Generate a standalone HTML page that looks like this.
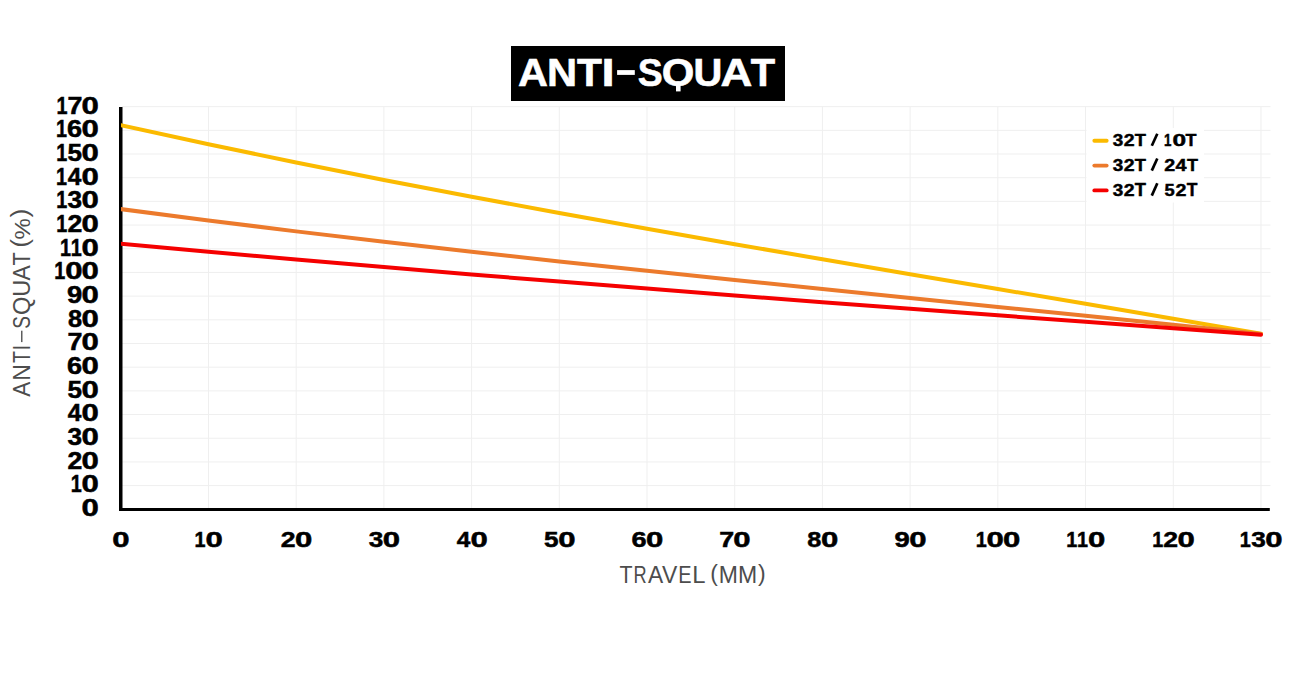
<!DOCTYPE html>
<html><head><meta charset="utf-8"><title>Anti-Squat</title>
<style>html,body{margin:0;padding:0;background:#fff;width:1296px;height:679px;overflow:hidden}
text{font-family:"Liberation Sans",sans-serif}</style></head>
<body>
<svg width="1296" height="679" viewBox="0 0 1296 679" style="display:block">
<rect width="1296" height="679" fill="#fff"/>
<g stroke="#efefef" stroke-width="1"><line x1="208.46" y1="106.5" x2="208.46" y2="508"/><line x1="296.17" y1="106.5" x2="296.17" y2="508"/><line x1="383.88" y1="106.5" x2="383.88" y2="508"/><line x1="471.59" y1="106.5" x2="471.59" y2="508"/><line x1="559.30" y1="106.5" x2="559.30" y2="508"/><line x1="647.01" y1="106.5" x2="647.01" y2="508"/><line x1="734.72" y1="106.5" x2="734.72" y2="508"/><line x1="822.43" y1="106.5" x2="822.43" y2="508"/><line x1="910.14" y1="106.5" x2="910.14" y2="508"/><line x1="997.85" y1="106.5" x2="997.85" y2="508"/><line x1="1085.56" y1="106.5" x2="1085.56" y2="508"/><line x1="1173.27" y1="106.5" x2="1173.27" y2="508"/><line x1="1260.98" y1="106.5" x2="1260.98" y2="508"/><line x1="122" y1="485.62" x2="1270.5" y2="485.62"/><line x1="122" y1="461.93" x2="1270.5" y2="461.93"/><line x1="122" y1="438.25" x2="1270.5" y2="438.25"/><line x1="122" y1="414.56" x2="1270.5" y2="414.56"/><line x1="122" y1="390.88" x2="1270.5" y2="390.88"/><line x1="122" y1="367.19" x2="1270.5" y2="367.19"/><line x1="122" y1="343.50" x2="1270.5" y2="343.50"/><line x1="122" y1="319.82" x2="1270.5" y2="319.82"/><line x1="122" y1="296.13" x2="1270.5" y2="296.13"/><line x1="122" y1="272.45" x2="1270.5" y2="272.45"/><line x1="122" y1="248.76" x2="1270.5" y2="248.76"/><line x1="122" y1="225.08" x2="1270.5" y2="225.08"/><line x1="122" y1="201.39" x2="1270.5" y2="201.39"/><line x1="122" y1="177.71" x2="1270.5" y2="177.71"/><line x1="122" y1="154.02" x2="1270.5" y2="154.02"/><line x1="122" y1="130.34" x2="1270.5" y2="130.34"/><line x1="122" y1="106.66" x2="1270.5" y2="106.66"/></g>
<rect x="1086.5" y="128" width="117.5" height="74.5" fill="#fff"/>
<line x1="120.75" y1="107" x2="120.75" y2="510.8" stroke="#000" stroke-width="3.5"/>
<line x1="119" y1="509.4" x2="1269.8" y2="509.4" stroke="#000" stroke-width="3"/>
<defs><clipPath id="ca"><rect x="120.9" y="0" width="1200" height="508"/></clipPath></defs>
<g clip-path="url(#ca)">
<path d="M120.75,125.21 L208.46,144.28 L296.17,162.50 L383.88,179.97 L471.59,196.78 L559.30,213.02 L647.01,228.80 L734.72,244.19 L822.43,259.29 L910.14,274.20 L997.85,289.01 L1085.56,303.81 L1173.27,318.69 L1260.98,333.75" fill="none" stroke="#fbba00" stroke-width="4" stroke-linecap="round" stroke-linejoin="round"/>
<path d="M120.75,209.10 L208.46,220.49 L296.17,231.36 L383.88,241.77 L471.59,251.78 L559.30,261.46 L647.01,270.85 L734.72,280.04 L822.43,289.06 L910.14,298.00 L997.85,306.89 L1085.56,315.81 L1173.27,324.82 L1260.98,333.98" fill="none" stroke="#ec7a2c" stroke-width="4" stroke-linecap="round" stroke-linejoin="round"/>
<path d="M120.75,243.68 L208.46,251.73 L296.17,259.53 L383.88,267.09 L471.59,274.44 L559.30,281.60 L647.01,288.59 L734.72,295.44 L822.43,302.16 L910.14,308.78 L997.85,315.32 L1085.56,321.80 L1173.27,328.25 L1260.98,334.69" fill="none" stroke="#f50000" stroke-width="4" stroke-linecap="round" stroke-linejoin="round"/>
</g>
<rect x="511" y="46" width="274" height="55" fill="#000"/>
<text x="517.97" y="86.20" font-size="39.54" font-family="Liberation Sans, sans-serif" font-weight="bold" fill="#fff" textLength="29.92" lengthAdjust="spacingAndGlyphs" stroke="#fff" stroke-width="0.6">A</text>
<text x="547.11" y="86.20" font-size="39.54" font-family="Liberation Sans, sans-serif" font-weight="bold" fill="#fff" textLength="30.10" lengthAdjust="spacingAndGlyphs" stroke="#fff" stroke-width="0.6">N</text>
<text x="577.04" y="86.20" font-size="39.54" font-family="Liberation Sans, sans-serif" font-weight="bold" fill="#fff" textLength="24.90" lengthAdjust="spacingAndGlyphs" stroke="#fff" stroke-width="0.6">T</text>
<text x="601.44" y="86.20" font-size="39.54" font-family="Liberation Sans, sans-serif" font-weight="bold" fill="#fff" textLength="13.12" lengthAdjust="spacingAndGlyphs" stroke="#fff" stroke-width="0.6">I</text>
<text x="637.82" y="86.20" font-size="39.54" font-family="Liberation Sans, sans-serif" font-weight="bold" fill="#fff" textLength="24.94" lengthAdjust="spacingAndGlyphs" stroke="#fff" stroke-width="0.6">S</text>
<text x="661.78" y="86.20" font-size="39.54" font-family="Liberation Sans, sans-serif" font-weight="bold" fill="#fff" textLength="32.58" lengthAdjust="spacingAndGlyphs" stroke="#fff" stroke-width="0.6">O</text>
<text x="693.60" y="86.20" font-size="39.54" font-family="Liberation Sans, sans-serif" font-weight="bold" fill="#fff" textLength="28.84" lengthAdjust="spacingAndGlyphs" stroke="#fff" stroke-width="0.6">U</text>
<text x="720.60" y="86.20" font-size="39.54" font-family="Liberation Sans, sans-serif" font-weight="bold" fill="#fff" textLength="31.86" lengthAdjust="spacingAndGlyphs" stroke="#fff" stroke-width="0.6">A</text>
<text x="750.85" y="86.20" font-size="39.54" font-family="Liberation Sans, sans-serif" font-weight="bold" fill="#fff" textLength="24.38" lengthAdjust="spacingAndGlyphs" stroke="#fff" stroke-width="0.6">T</text>
<rect x="617.1" y="70.1" width="17.7" height="4.8" fill="#fff"/>
<rect x="676.0" y="82" width="4.6" height="9.4" fill="#fff"/>
<text x="81.57" y="516.17" font-size="23.59" font-family="Liberation Sans, sans-serif" font-weight="bold" fill="#000" textLength="17.31" lengthAdjust="spacingAndGlyphs" stroke="#000" stroke-width="0.5">0</text>
<text x="70.75" y="492.48" font-size="23.59" font-family="Liberation Sans, sans-serif" font-weight="bold" fill="#000" textLength="11.00" lengthAdjust="spacingAndGlyphs" stroke="#000" stroke-width="0.5">1</text><text x="81.57" y="492.48" font-size="23.59" font-family="Liberation Sans, sans-serif" font-weight="bold" fill="#000" textLength="17.31" lengthAdjust="spacingAndGlyphs" stroke="#000" stroke-width="0.5">0</text>
<text x="67.48" y="468.80" font-size="23.59" font-family="Liberation Sans, sans-serif" font-weight="bold" fill="#000" textLength="14.79" lengthAdjust="spacingAndGlyphs" stroke="#000" stroke-width="0.5">2</text><text x="81.57" y="468.80" font-size="23.59" font-family="Liberation Sans, sans-serif" font-weight="bold" fill="#000" textLength="17.31" lengthAdjust="spacingAndGlyphs" stroke="#000" stroke-width="0.5">0</text>
<text x="67.60" y="445.11" font-size="23.59" font-family="Liberation Sans, sans-serif" font-weight="bold" fill="#000" textLength="14.55" lengthAdjust="spacingAndGlyphs" stroke="#000" stroke-width="0.5">3</text><text x="81.57" y="445.11" font-size="23.59" font-family="Liberation Sans, sans-serif" font-weight="bold" fill="#000" textLength="17.31" lengthAdjust="spacingAndGlyphs" stroke="#000" stroke-width="0.5">0</text>
<text x="67.73" y="421.43" font-size="23.59" font-family="Liberation Sans, sans-serif" font-weight="bold" fill="#000" textLength="13.60" lengthAdjust="spacingAndGlyphs" stroke="#000" stroke-width="0.5">4</text><text x="81.57" y="421.43" font-size="23.59" font-family="Liberation Sans, sans-serif" font-weight="bold" fill="#000" textLength="17.31" lengthAdjust="spacingAndGlyphs" stroke="#000" stroke-width="0.5">0</text>
<text x="67.40" y="397.74" font-size="23.59" font-family="Liberation Sans, sans-serif" font-weight="bold" fill="#000" textLength="14.53" lengthAdjust="spacingAndGlyphs" stroke="#000" stroke-width="0.5">5</text><text x="81.57" y="397.74" font-size="23.59" font-family="Liberation Sans, sans-serif" font-weight="bold" fill="#000" textLength="17.31" lengthAdjust="spacingAndGlyphs" stroke="#000" stroke-width="0.5">0</text>
<text x="67.11" y="374.06" font-size="23.59" font-family="Liberation Sans, sans-serif" font-weight="bold" fill="#000" textLength="15.07" lengthAdjust="spacingAndGlyphs" stroke="#000" stroke-width="0.5">6</text><text x="81.57" y="374.06" font-size="23.59" font-family="Liberation Sans, sans-serif" font-weight="bold" fill="#000" textLength="17.31" lengthAdjust="spacingAndGlyphs" stroke="#000" stroke-width="0.5">0</text>
<text x="67.45" y="350.37" font-size="23.59" font-family="Liberation Sans, sans-serif" font-weight="bold" fill="#000" textLength="14.93" lengthAdjust="spacingAndGlyphs" stroke="#000" stroke-width="0.5">7</text><text x="81.57" y="350.37" font-size="23.59" font-family="Liberation Sans, sans-serif" font-weight="bold" fill="#000" textLength="17.31" lengthAdjust="spacingAndGlyphs" stroke="#000" stroke-width="0.5">0</text>
<text x="67.90" y="326.69" font-size="23.59" font-family="Liberation Sans, sans-serif" font-weight="bold" fill="#000" textLength="14.08" lengthAdjust="spacingAndGlyphs" stroke="#000" stroke-width="0.5">8</text><text x="81.57" y="326.69" font-size="23.59" font-family="Liberation Sans, sans-serif" font-weight="bold" fill="#000" textLength="17.31" lengthAdjust="spacingAndGlyphs" stroke="#000" stroke-width="0.5">0</text>
<text x="66.95" y="303.00" font-size="23.59" font-family="Liberation Sans, sans-serif" font-weight="bold" fill="#000" textLength="15.27" lengthAdjust="spacingAndGlyphs" stroke="#000" stroke-width="0.5">9</text><text x="81.57" y="303.00" font-size="23.59" font-family="Liberation Sans, sans-serif" font-weight="bold" fill="#000" textLength="17.31" lengthAdjust="spacingAndGlyphs" stroke="#000" stroke-width="0.5">0</text>
<text x="54.35" y="279.32" font-size="23.59" font-family="Liberation Sans, sans-serif" font-weight="bold" fill="#000" textLength="11.00" lengthAdjust="spacingAndGlyphs" stroke="#000" stroke-width="0.5">1</text><text x="65.17" y="279.32" font-size="23.59" font-family="Liberation Sans, sans-serif" font-weight="bold" fill="#000" textLength="17.31" lengthAdjust="spacingAndGlyphs" stroke="#000" stroke-width="0.5">0</text><text x="81.57" y="279.32" font-size="23.59" font-family="Liberation Sans, sans-serif" font-weight="bold" fill="#000" textLength="17.31" lengthAdjust="spacingAndGlyphs" stroke="#000" stroke-width="0.5">0</text>
<text x="59.95" y="255.63" font-size="23.59" font-family="Liberation Sans, sans-serif" font-weight="bold" fill="#000" textLength="11.00" lengthAdjust="spacingAndGlyphs" stroke="#000" stroke-width="0.5">1</text><text x="70.75" y="255.63" font-size="23.59" font-family="Liberation Sans, sans-serif" font-weight="bold" fill="#000" textLength="11.00" lengthAdjust="spacingAndGlyphs" stroke="#000" stroke-width="0.5">1</text><text x="81.57" y="255.63" font-size="23.59" font-family="Liberation Sans, sans-serif" font-weight="bold" fill="#000" textLength="17.31" lengthAdjust="spacingAndGlyphs" stroke="#000" stroke-width="0.5">0</text>
<text x="56.35" y="231.95" font-size="23.59" font-family="Liberation Sans, sans-serif" font-weight="bold" fill="#000" textLength="11.00" lengthAdjust="spacingAndGlyphs" stroke="#000" stroke-width="0.5">1</text><text x="67.48" y="231.95" font-size="23.59" font-family="Liberation Sans, sans-serif" font-weight="bold" fill="#000" textLength="14.79" lengthAdjust="spacingAndGlyphs" stroke="#000" stroke-width="0.5">2</text><text x="81.57" y="231.95" font-size="23.59" font-family="Liberation Sans, sans-serif" font-weight="bold" fill="#000" textLength="17.31" lengthAdjust="spacingAndGlyphs" stroke="#000" stroke-width="0.5">0</text>
<text x="56.15" y="208.26" font-size="23.59" font-family="Liberation Sans, sans-serif" font-weight="bold" fill="#000" textLength="11.00" lengthAdjust="spacingAndGlyphs" stroke="#000" stroke-width="0.5">1</text><text x="67.60" y="208.26" font-size="23.59" font-family="Liberation Sans, sans-serif" font-weight="bold" fill="#000" textLength="14.55" lengthAdjust="spacingAndGlyphs" stroke="#000" stroke-width="0.5">3</text><text x="81.57" y="208.26" font-size="23.59" font-family="Liberation Sans, sans-serif" font-weight="bold" fill="#000" textLength="17.31" lengthAdjust="spacingAndGlyphs" stroke="#000" stroke-width="0.5">0</text>
<text x="56.05" y="184.58" font-size="23.59" font-family="Liberation Sans, sans-serif" font-weight="bold" fill="#000" textLength="11.00" lengthAdjust="spacingAndGlyphs" stroke="#000" stroke-width="0.5">1</text><text x="67.73" y="184.58" font-size="23.59" font-family="Liberation Sans, sans-serif" font-weight="bold" fill="#000" textLength="13.60" lengthAdjust="spacingAndGlyphs" stroke="#000" stroke-width="0.5">4</text><text x="81.57" y="184.58" font-size="23.59" font-family="Liberation Sans, sans-serif" font-weight="bold" fill="#000" textLength="17.31" lengthAdjust="spacingAndGlyphs" stroke="#000" stroke-width="0.5">0</text>
<text x="56.15" y="160.89" font-size="23.59" font-family="Liberation Sans, sans-serif" font-weight="bold" fill="#000" textLength="11.00" lengthAdjust="spacingAndGlyphs" stroke="#000" stroke-width="0.5">1</text><text x="67.40" y="160.89" font-size="23.59" font-family="Liberation Sans, sans-serif" font-weight="bold" fill="#000" textLength="14.53" lengthAdjust="spacingAndGlyphs" stroke="#000" stroke-width="0.5">5</text><text x="81.57" y="160.89" font-size="23.59" font-family="Liberation Sans, sans-serif" font-weight="bold" fill="#000" textLength="17.31" lengthAdjust="spacingAndGlyphs" stroke="#000" stroke-width="0.5">0</text>
<text x="56.05" y="137.21" font-size="23.59" font-family="Liberation Sans, sans-serif" font-weight="bold" fill="#000" textLength="11.00" lengthAdjust="spacingAndGlyphs" stroke="#000" stroke-width="0.5">1</text><text x="67.11" y="137.21" font-size="23.59" font-family="Liberation Sans, sans-serif" font-weight="bold" fill="#000" textLength="15.07" lengthAdjust="spacingAndGlyphs" stroke="#000" stroke-width="0.5">6</text><text x="81.57" y="137.21" font-size="23.59" font-family="Liberation Sans, sans-serif" font-weight="bold" fill="#000" textLength="17.31" lengthAdjust="spacingAndGlyphs" stroke="#000" stroke-width="0.5">0</text>
<text x="56.55" y="113.52" font-size="23.59" font-family="Liberation Sans, sans-serif" font-weight="bold" fill="#000" textLength="11.00" lengthAdjust="spacingAndGlyphs" stroke="#000" stroke-width="0.5">1</text><text x="67.45" y="113.52" font-size="23.59" font-family="Liberation Sans, sans-serif" font-weight="bold" fill="#000" textLength="14.93" lengthAdjust="spacingAndGlyphs" stroke="#000" stroke-width="0.5">7</text><text x="81.57" y="113.52" font-size="23.59" font-family="Liberation Sans, sans-serif" font-weight="bold" fill="#000" textLength="17.31" lengthAdjust="spacingAndGlyphs" stroke="#000" stroke-width="0.5">0</text>
<text x="112.32" y="547.18" font-size="22.17" font-family="Liberation Sans, sans-serif" font-weight="bold" fill="#000" textLength="17.31" lengthAdjust="spacingAndGlyphs" stroke="#000" stroke-width="0.5">0</text>
<text x="194.61" y="547.18" font-size="22.17" font-family="Liberation Sans, sans-serif" font-weight="bold" fill="#000" textLength="11.00" lengthAdjust="spacingAndGlyphs" stroke="#000" stroke-width="0.5">1</text><text x="205.43" y="547.18" font-size="22.17" font-family="Liberation Sans, sans-serif" font-weight="bold" fill="#000" textLength="17.31" lengthAdjust="spacingAndGlyphs" stroke="#000" stroke-width="0.5">0</text>
<text x="280.85" y="547.18" font-size="22.17" font-family="Liberation Sans, sans-serif" font-weight="bold" fill="#000" textLength="14.79" lengthAdjust="spacingAndGlyphs" stroke="#000" stroke-width="0.5">2</text><text x="294.94" y="547.18" font-size="22.17" font-family="Liberation Sans, sans-serif" font-weight="bold" fill="#000" textLength="17.31" lengthAdjust="spacingAndGlyphs" stroke="#000" stroke-width="0.5">0</text>
<text x="368.78" y="547.18" font-size="22.17" font-family="Liberation Sans, sans-serif" font-weight="bold" fill="#000" textLength="14.55" lengthAdjust="spacingAndGlyphs" stroke="#000" stroke-width="0.5">3</text><text x="382.75" y="547.18" font-size="22.17" font-family="Liberation Sans, sans-serif" font-weight="bold" fill="#000" textLength="17.31" lengthAdjust="spacingAndGlyphs" stroke="#000" stroke-width="0.5">0</text>
<text x="456.67" y="547.18" font-size="22.17" font-family="Liberation Sans, sans-serif" font-weight="bold" fill="#000" textLength="13.60" lengthAdjust="spacingAndGlyphs" stroke="#000" stroke-width="0.5">4</text><text x="470.51" y="547.18" font-size="22.17" font-family="Liberation Sans, sans-serif" font-weight="bold" fill="#000" textLength="17.31" lengthAdjust="spacingAndGlyphs" stroke="#000" stroke-width="0.5">0</text>
<text x="544.00" y="547.18" font-size="22.17" font-family="Liberation Sans, sans-serif" font-weight="bold" fill="#000" textLength="14.53" lengthAdjust="spacingAndGlyphs" stroke="#000" stroke-width="0.5">5</text><text x="558.17" y="547.18" font-size="22.17" font-family="Liberation Sans, sans-serif" font-weight="bold" fill="#000" textLength="17.31" lengthAdjust="spacingAndGlyphs" stroke="#000" stroke-width="0.5">0</text>
<text x="631.47" y="547.18" font-size="22.17" font-family="Liberation Sans, sans-serif" font-weight="bold" fill="#000" textLength="15.07" lengthAdjust="spacingAndGlyphs" stroke="#000" stroke-width="0.5">6</text><text x="645.93" y="547.18" font-size="22.17" font-family="Liberation Sans, sans-serif" font-weight="bold" fill="#000" textLength="17.31" lengthAdjust="spacingAndGlyphs" stroke="#000" stroke-width="0.5">0</text>
<text x="719.27" y="547.18" font-size="22.17" font-family="Liberation Sans, sans-serif" font-weight="bold" fill="#000" textLength="14.93" lengthAdjust="spacingAndGlyphs" stroke="#000" stroke-width="0.5">7</text><text x="733.39" y="547.18" font-size="22.17" font-family="Liberation Sans, sans-serif" font-weight="bold" fill="#000" textLength="17.31" lengthAdjust="spacingAndGlyphs" stroke="#000" stroke-width="0.5">0</text>
<text x="807.38" y="547.18" font-size="22.17" font-family="Liberation Sans, sans-serif" font-weight="bold" fill="#000" textLength="14.08" lengthAdjust="spacingAndGlyphs" stroke="#000" stroke-width="0.5">8</text><text x="821.05" y="547.18" font-size="22.17" font-family="Liberation Sans, sans-serif" font-weight="bold" fill="#000" textLength="17.31" lengthAdjust="spacingAndGlyphs" stroke="#000" stroke-width="0.5">0</text>
<text x="894.54" y="547.18" font-size="22.17" font-family="Liberation Sans, sans-serif" font-weight="bold" fill="#000" textLength="15.27" lengthAdjust="spacingAndGlyphs" stroke="#000" stroke-width="0.5">9</text><text x="909.16" y="547.18" font-size="22.17" font-family="Liberation Sans, sans-serif" font-weight="bold" fill="#000" textLength="17.31" lengthAdjust="spacingAndGlyphs" stroke="#000" stroke-width="0.5">0</text>
<text x="975.80" y="547.18" font-size="22.17" font-family="Liberation Sans, sans-serif" font-weight="bold" fill="#000" textLength="11.00" lengthAdjust="spacingAndGlyphs" stroke="#000" stroke-width="0.5">1</text><text x="986.62" y="547.18" font-size="22.17" font-family="Liberation Sans, sans-serif" font-weight="bold" fill="#000" textLength="17.31" lengthAdjust="spacingAndGlyphs" stroke="#000" stroke-width="0.5">0</text><text x="1003.02" y="547.18" font-size="22.17" font-family="Liberation Sans, sans-serif" font-weight="bold" fill="#000" textLength="17.31" lengthAdjust="spacingAndGlyphs" stroke="#000" stroke-width="0.5">0</text>
<text x="1066.31" y="547.18" font-size="22.17" font-family="Liberation Sans, sans-serif" font-weight="bold" fill="#000" textLength="11.00" lengthAdjust="spacingAndGlyphs" stroke="#000" stroke-width="0.5">1</text><text x="1077.11" y="547.18" font-size="22.17" font-family="Liberation Sans, sans-serif" font-weight="bold" fill="#000" textLength="11.00" lengthAdjust="spacingAndGlyphs" stroke="#000" stroke-width="0.5">1</text><text x="1087.93" y="547.18" font-size="22.17" font-family="Liberation Sans, sans-serif" font-weight="bold" fill="#000" textLength="17.31" lengthAdjust="spacingAndGlyphs" stroke="#000" stroke-width="0.5">0</text>
<text x="1152.22" y="547.18" font-size="22.17" font-family="Liberation Sans, sans-serif" font-weight="bold" fill="#000" textLength="11.00" lengthAdjust="spacingAndGlyphs" stroke="#000" stroke-width="0.5">1</text><text x="1163.35" y="547.18" font-size="22.17" font-family="Liberation Sans, sans-serif" font-weight="bold" fill="#000" textLength="14.79" lengthAdjust="spacingAndGlyphs" stroke="#000" stroke-width="0.5">2</text><text x="1177.44" y="547.18" font-size="22.17" font-family="Liberation Sans, sans-serif" font-weight="bold" fill="#000" textLength="17.31" lengthAdjust="spacingAndGlyphs" stroke="#000" stroke-width="0.5">0</text>
<text x="1239.83" y="547.18" font-size="22.17" font-family="Liberation Sans, sans-serif" font-weight="bold" fill="#000" textLength="11.00" lengthAdjust="spacingAndGlyphs" stroke="#000" stroke-width="0.5">1</text><text x="1251.28" y="547.18" font-size="22.17" font-family="Liberation Sans, sans-serif" font-weight="bold" fill="#000" textLength="14.55" lengthAdjust="spacingAndGlyphs" stroke="#000" stroke-width="0.5">3</text><text x="1265.25" y="547.18" font-size="22.17" font-family="Liberation Sans, sans-serif" font-weight="bold" fill="#000" textLength="17.31" lengthAdjust="spacingAndGlyphs" stroke="#000" stroke-width="0.5">0</text>
<text x="619.42" y="582.60" font-size="23.69" font-family="Liberation Sans, sans-serif" fill="#4d4d4d" textLength="13.07" lengthAdjust="spacingAndGlyphs" >T</text><text x="633.61" y="582.60" font-size="23.69" font-family="Liberation Sans, sans-serif" fill="#4d4d4d" textLength="13.14" lengthAdjust="spacingAndGlyphs" >R</text><text x="647.96" y="582.60" font-size="23.69" font-family="Liberation Sans, sans-serif" fill="#4d4d4d" textLength="15.19" lengthAdjust="spacingAndGlyphs" >A</text><text x="662.10" y="582.60" font-size="23.69" font-family="Liberation Sans, sans-serif" fill="#4d4d4d" textLength="15.30" lengthAdjust="spacingAndGlyphs" >V</text><text x="678.17" y="582.60" font-size="23.69" font-family="Liberation Sans, sans-serif" fill="#4d4d4d" textLength="13.29" lengthAdjust="spacingAndGlyphs" >E</text><text x="692.25" y="582.60" font-size="23.69" font-family="Liberation Sans, sans-serif" fill="#4d4d4d" textLength="13.24" lengthAdjust="spacingAndGlyphs" >L</text><text x="710.37" y="580.63" font-size="24.47" font-family="Liberation Sans, sans-serif" fill="#4d4d4d" textLength="7.66" lengthAdjust="spacingAndGlyphs" >(</text><text x="718.81" y="582.60" font-size="23.69" font-family="Liberation Sans, sans-serif" fill="#4d4d4d" textLength="19.18" lengthAdjust="spacingAndGlyphs" >M</text><text x="738.01" y="582.60" font-size="23.69" font-family="Liberation Sans, sans-serif" fill="#4d4d4d" textLength="19.18" lengthAdjust="spacingAndGlyphs" >M</text><text x="757.97" y="580.63" font-size="24.47" font-family="Liberation Sans, sans-serif" fill="#4d4d4d" textLength="7.66" lengthAdjust="spacingAndGlyphs" >)</text>
<g transform="translate(13.8,396.6) rotate(-90)"><text x="-0.04" y="16.00" font-size="23.26" font-family="Liberation Sans, sans-serif" fill="#4d4d4d" textLength="15.09" lengthAdjust="spacingAndGlyphs" >A</text><text x="15.82" y="16.00" font-size="23.26" font-family="Liberation Sans, sans-serif" fill="#4d4d4d" textLength="16.55" lengthAdjust="spacingAndGlyphs" >N</text><text x="33.66" y="16.00" font-size="23.26" font-family="Liberation Sans, sans-serif" fill="#4d4d4d" textLength="11.88" lengthAdjust="spacingAndGlyphs" >T</text><text x="46.42" y="16.00" font-size="23.26" font-family="Liberation Sans, sans-serif" fill="#4d4d4d" textLength="5.36" lengthAdjust="spacingAndGlyphs" >I</text><text x="67.93" y="16.00" font-size="23.26" font-family="Liberation Sans, sans-serif" fill="#4d4d4d" textLength="12.74" lengthAdjust="spacingAndGlyphs" >S</text><text x="81.58" y="16.00" font-size="23.26" font-family="Liberation Sans, sans-serif" fill="#4d4d4d" textLength="18.46" lengthAdjust="spacingAndGlyphs" >Q</text><text x="99.98" y="16.00" font-size="23.26" font-family="Liberation Sans, sans-serif" fill="#4d4d4d" textLength="17.04" lengthAdjust="spacingAndGlyphs" >U</text><text x="116.16" y="16.00" font-size="23.26" font-family="Liberation Sans, sans-serif" fill="#4d4d4d" textLength="15.19" lengthAdjust="spacingAndGlyphs" >A</text><text x="131.11" y="16.00" font-size="23.26" font-family="Liberation Sans, sans-serif" fill="#4d4d4d" textLength="13.29" lengthAdjust="spacingAndGlyphs" >T</text><text x="148.76" y="14.39" font-size="24.69" font-family="Liberation Sans, sans-serif" fill="#4d4d4d" textLength="8.79" lengthAdjust="spacingAndGlyphs" >(</text><text x="157.15" y="15.87" font-size="22.87" font-family="Liberation Sans, sans-serif" fill="#4d4d4d" textLength="21.20" lengthAdjust="spacingAndGlyphs" >%</text><text x="179.04" y="14.39" font-size="24.69" font-family="Liberation Sans, sans-serif" fill="#4d4d4d" textLength="8.92" lengthAdjust="spacingAndGlyphs" >)</text><rect x="54.50" y="7.3" width="11.4" height="1.35" fill="#4d4d4d"/></g>
<line x1="1094.3" y1="140.75" x2="1106.7" y2="140.75" stroke="#fbba00" stroke-width="3.8" stroke-linecap="round"/>
<text x="1112.87" y="145.93" font-size="17.09" font-family="Liberation Sans, sans-serif" font-weight="bold" fill="#000" textLength="10.52" lengthAdjust="spacingAndGlyphs" stroke="#000" stroke-width="0.45">3</text>
<text x="1123.82" y="145.93" font-size="17.09" font-family="Liberation Sans, sans-serif" font-weight="bold" fill="#000" textLength="10.86" lengthAdjust="spacingAndGlyphs" stroke="#000" stroke-width="0.45">2</text>
<text x="1134.69" y="146.00" font-size="17.30" font-family="Liberation Sans, sans-serif" font-weight="bold" fill="#000" textLength="11.20" lengthAdjust="spacingAndGlyphs" stroke="#000" stroke-width="0.45">T</text>
<line x1="1157.30" y1="133.70" x2="1151.80" y2="145.80" stroke="#000" stroke-width="2.7"/>
<text x="1164.06" y="145.93" font-size="17.09" font-family="Liberation Sans, sans-serif" font-weight="bold" fill="#000" textLength="7.41" lengthAdjust="spacingAndGlyphs" stroke="#000" stroke-width="0.45">1</text>
<text x="1172.44" y="145.93" font-size="17.09" font-family="Liberation Sans, sans-serif" font-weight="bold" fill="#000" textLength="13.57" lengthAdjust="spacingAndGlyphs" stroke="#000" stroke-width="0.45">0</text>
<text x="1185.40" y="146.00" font-size="17.30" font-family="Liberation Sans, sans-serif" font-weight="bold" fill="#000" textLength="11.00" lengthAdjust="spacingAndGlyphs" stroke="#000" stroke-width="0.45">T</text>
<line x1="1094.3" y1="165.55" x2="1106.7" y2="165.55" stroke="#ec7a2c" stroke-width="3.8" stroke-linecap="round"/>
<text x="1112.87" y="170.73" font-size="17.09" font-family="Liberation Sans, sans-serif" font-weight="bold" fill="#000" textLength="10.52" lengthAdjust="spacingAndGlyphs" stroke="#000" stroke-width="0.45">3</text>
<text x="1123.82" y="170.73" font-size="17.09" font-family="Liberation Sans, sans-serif" font-weight="bold" fill="#000" textLength="10.86" lengthAdjust="spacingAndGlyphs" stroke="#000" stroke-width="0.45">2</text>
<text x="1134.69" y="170.80" font-size="17.30" font-family="Liberation Sans, sans-serif" font-weight="bold" fill="#000" textLength="11.20" lengthAdjust="spacingAndGlyphs" stroke="#000" stroke-width="0.45">T</text>
<line x1="1157.30" y1="158.50" x2="1151.80" y2="170.60" stroke="#000" stroke-width="2.7"/>
<text x="1164.22" y="170.73" font-size="17.09" font-family="Liberation Sans, sans-serif" font-weight="bold" fill="#000" textLength="10.97" lengthAdjust="spacingAndGlyphs" stroke="#000" stroke-width="0.45">2</text>
<text x="1175.60" y="170.73" font-size="17.09" font-family="Liberation Sans, sans-serif" font-weight="bold" fill="#000" textLength="11.01" lengthAdjust="spacingAndGlyphs" stroke="#000" stroke-width="0.45">4</text>
<text x="1187.10" y="170.80" font-size="17.30" font-family="Liberation Sans, sans-serif" font-weight="bold" fill="#000" textLength="11.00" lengthAdjust="spacingAndGlyphs" stroke="#000" stroke-width="0.45">T</text>
<line x1="1094.3" y1="190.45" x2="1106.7" y2="190.45" stroke="#f50000" stroke-width="3.8" stroke-linecap="round"/>
<text x="1112.87" y="195.73" font-size="17.37" font-family="Liberation Sans, sans-serif" font-weight="bold" fill="#000" textLength="10.52" lengthAdjust="spacingAndGlyphs" stroke="#000" stroke-width="0.45">3</text>
<text x="1123.82" y="195.73" font-size="17.37" font-family="Liberation Sans, sans-serif" font-weight="bold" fill="#000" textLength="10.86" lengthAdjust="spacingAndGlyphs" stroke="#000" stroke-width="0.45">2</text>
<text x="1134.69" y="195.80" font-size="17.59" font-family="Liberation Sans, sans-serif" font-weight="bold" fill="#000" textLength="11.20" lengthAdjust="spacingAndGlyphs" stroke="#000" stroke-width="0.45">T</text>
<line x1="1157.30" y1="183.30" x2="1151.80" y2="195.60" stroke="#000" stroke-width="2.7"/>
<text x="1164.54" y="195.73" font-size="17.37" font-family="Liberation Sans, sans-serif" font-weight="bold" fill="#000" textLength="10.17" lengthAdjust="spacingAndGlyphs" stroke="#000" stroke-width="0.45">5</text>
<text x="1175.42" y="195.73" font-size="17.37" font-family="Liberation Sans, sans-serif" font-weight="bold" fill="#000" textLength="10.97" lengthAdjust="spacingAndGlyphs" stroke="#000" stroke-width="0.45">2</text>
<text x="1186.70" y="195.80" font-size="17.59" font-family="Liberation Sans, sans-serif" font-weight="bold" fill="#000" textLength="10.68" lengthAdjust="spacingAndGlyphs" stroke="#000" stroke-width="0.45">T</text>
</svg>
</body></html>
